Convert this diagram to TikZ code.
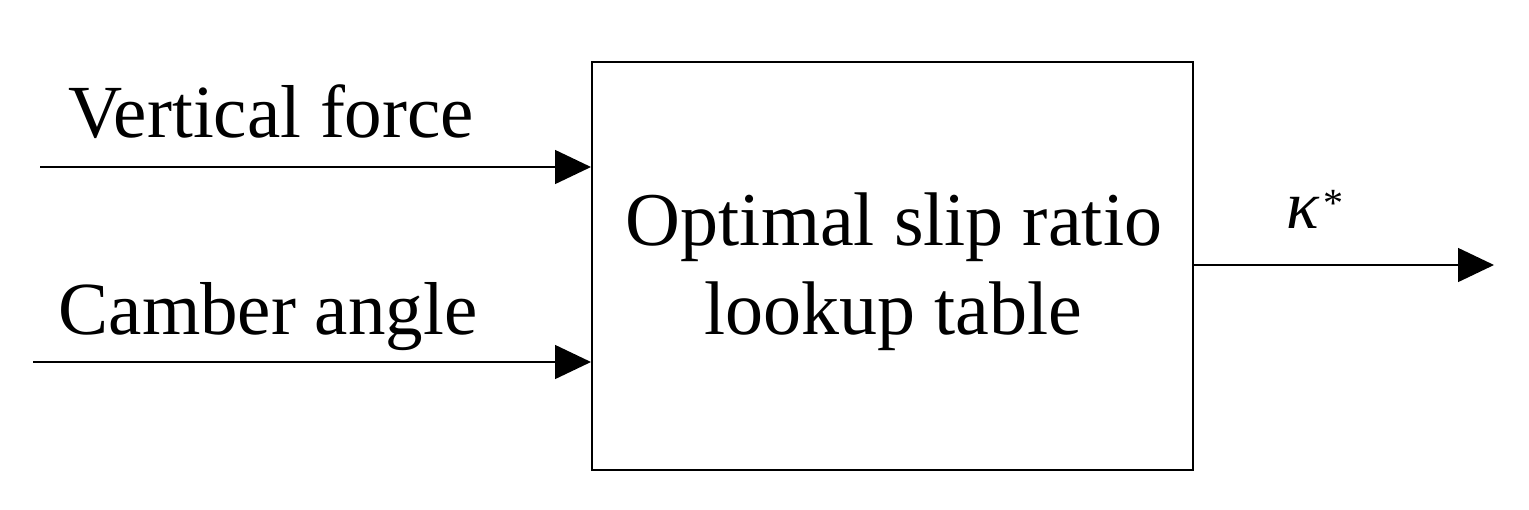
\documentclass[tikz,border=0pt]{standalone}
\usepackage{fontspec}
\setmainfont{Liberation Serif}
\usetikzlibrary{arrows.meta}
\begin{document}
\begin{tikzpicture}[x=1pt,y=-1pt,
  conn/.style={line width=1.5pt,-{Triangle[length=36pt,width=34pt]}},
  lbl/.style={inner sep=0pt,anchor=base,font=\fontsize{75}{88}\selectfont}]
\useasboundingbox (0,0) rectangle (1529,509);
\node[draw,line width=1.5pt,minimum width=601pt,minimum height=408pt,anchor=north west,inner sep=0pt] (box) at (591,61) {};
\node[lbl,align=center,font=\fontsize{76}{89}\selectfont] (t1) at (894,245) {Optimal slip ratio};
\node[lbl,font=\fontsize{76}{89}\selectfont] (t2) at (893,334) {lookup table};
\coordinate (a) at (40,167);
\coordinate (b) at (33,362);
\coordinate (c) at (1494,265);
\draw[conn] (a) -- (a -| box.west);
\draw[conn] (b) -- (b -| box.west);
\draw[conn] (c -| box.east) -- (c);
\node[lbl] (vf) at (271,137) {Vertical force};
\node[lbl] (ca) at (268,334) {Camber angle};
\node[lbl,font=\fontsize{68}{70}\selectfont] (k) at (1315,228) {\itshape κ\hspace{4pt}\raisebox{12pt}{\fontsize{40}{40}\selectfont\upshape *}};
\end{tikzpicture}
\end{document}
